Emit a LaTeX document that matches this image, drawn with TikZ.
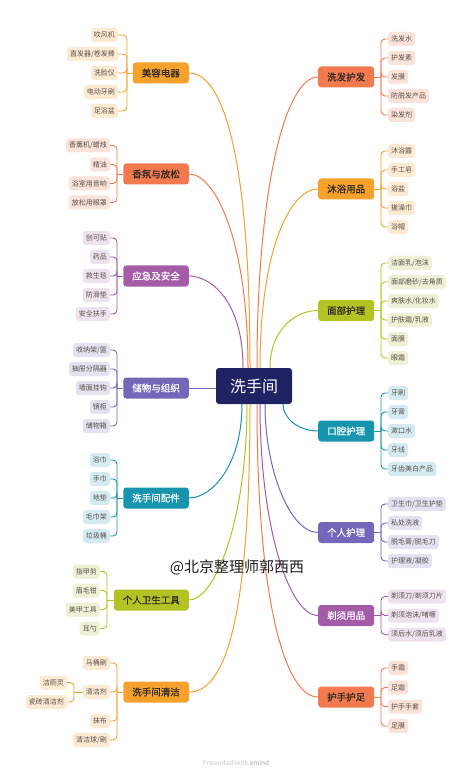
\documentclass[tikz,border=0pt]{standalone}
\usepackage{fontspec}
\setmainfont{Noto Sans CJK SC}
\newfontfamily\mainfnt[FakeBold=0.6]{Noto Sans CJK SC}
\definecolor{cOr}{HTML}{F5A12C}\definecolor{lOr}{HTML}{FCEAD2}
\definecolor{cCo}{HTML}{F37A4F}\definecolor{lCo}{HTML}{FCE3D9}
\definecolor{cPu}{HTML}{A45CA9}\definecolor{lPu}{HTML}{EEE2EF}
\definecolor{cSl}{HTML}{7168BA}\definecolor{lSl}{HTML}{E4E2F1}
\definecolor{cTe}{HTML}{1795AF}\definecolor{lTe}{HTML}{D4EBF2}
\definecolor{cGr}{HTML}{B4C324}\definecolor{lGr}{HTML}{EEF1D5}
\definecolor{cNavy}{HTML}{1F2363}
\definecolor{dk}{HTML}{2F2A25}
\definecolor{lt}{HTML}{5A514A}
\begin{document}
\begin{tikzpicture}[x=1pt,y=-1pt,
  mainnode/.style={rounded corners=3pt, minimum height=21pt, inner xsep=9pt, inner ysep=0pt, font=\mainfnt\fontsize{9.5}{10}\selectfont},
  mainL/.style={mainnode, anchor=east},
  mainR/.style={mainnode, anchor=west},
  leaf/.style={rounded corners=3pt, minimum height=14pt, inner xsep=3pt, inner ysep=0pt, font=\fontsize{7}{8}\selectfont, text=lt},
  leafL/.style={leaf, anchor=east},
  leafR/.style={leaf, anchor=west},
  link/.style={line width=1pt},
  brk/.style={line width=0.9pt, rounded corners=4pt}
]
\useasboundingbox[fill=white] (0,0) rectangle (474,775);

% center
\node[fill=cNavy, rounded corners=3pt, minimum width=76pt, minimum height=36pt, text=white, font=\fontsize{16}{18}\selectfont] (c) at (254,386) {洗手间};

%%%%%%%% LEFT %%%%%%%%
% 美容电器
\node[mainL, fill=cOr, text=dk] (mr) at (189,73) {美容电器};
\coordinate (mrb) at (127,73);
\draw[brk,cOr] (mr.west) -- (mrb);
\foreach \t/\y [count=\i] in {吹风机/35,{直发器/卷发棒}/54,洗脸仪/73,电动牙刷/92,足浴盆/111}{
  \node[leafL, fill=lOr] (mr\i) at (118,\y) {\t};
  \draw[brk,cOr] (mrb) |- (mr\i.east);
}
\draw[link,cOr] (mr.east) .. controls (224,73) and (250,160) .. ([xshift=-4pt]c.north);

% 香氛与放松
\node[mainL, fill=cCo, text=dk] (xf) at (189,174) {香氛与放松};
\coordinate (xfb) at (117,174);
\draw[brk,cCo] (xf.west) -- (xfb);
\foreach \t/\y [count=\i] in {{香薰机/蜡烛}/145.5,精油/164.5,浴室用音响/183.5,放松用眼罩/202.5}{
  \node[leafL, fill=lCo] (xf\i) at (110,\y) {\t};
  \draw[brk,cCo] (xfb) |- (xf\i.east);
}
\draw[link,cCo] (xf.east) .. controls (215,174) and (248,240) .. ([xshift=-6pt]c.north);

% 应急及安全
\node[mainL, fill=cPu, text=white] (yj) at (189,276) {应急及安全};
\coordinate (yjb) at (117,276);
\draw[brk,cPu] (yj.west) -- (yjb);
\foreach \t/\y [count=\i] in {创可贴/238,药品/257,救生毯/276,防滑垫/295,安全扶手/314}{
  \node[leafL, fill=lPu] (yj\i) at (110,\y) {\t};
  \draw[brk,cPu] (yjb) |- (yj\i.east);
}
\draw[link,cPu] (yj.east) .. controls (210,276) and (243,300) .. ([xshift=-11pt]c.north);

% 储物与组织
\node[mainL, fill=cSl, text=white] (cw) at (189,388) {储物与组织};
\coordinate (cwb) at (117,388);
\draw[brk,cSl] (cw.west) -- (cwb);
\foreach \t/\y [count=\i] in {{收纳架/篮}/350,抽屉分隔器/369,墙面挂钩/388,镜柜/407,储物箱/426}{
  \node[leafL, fill=lSl] (cw\i) at (110,\y) {\t};
  \draw[brk,cSl] (cwb) |- (cw\i.east);
}
\draw[link,cSl] (cw.east) -- (cw.east -| c.west);

% 洗手间配件
\node[mainL, fill=cTe, text=white] (pj) at (189,498) {洗手间配件};
\coordinate (pjb) at (117,498);
\draw[brk,cTe] (pj.west) -- (pjb);
\foreach \t/\y [count=\i] in {浴巾/460,手巾/479,地垫/498,毛巾架/517,垃圾桶/536}{
  \node[leafL, fill=lTe] (pj\i) at (110,\y) {\t};
  \draw[brk,cTe] (pjb) |- (pj\i.east);
}
\draw[link,cTe] (pj.east) .. controls (212,498) and (242,465) .. ([xshift=-12pt]c.south);

% 个人卫生工具
\node[mainL, fill=cGr, text=dk] (ws) at (189,600) {个人卫生工具};
\coordinate (wsb) at (107,600);
\draw[brk,cGr] (ws.west) -- (wsb);
\foreach \t/\y [count=\i] in {指甲剪/571.5,眉毛钳/590.5,美甲工具/609.5,耳勺/628.5}{
  \node[leafL, fill=lGr] (ws\i) at (100,\y) {\t};
  \draw[brk,cGr] (wsb) |- (ws\i.east);
}
\draw[link,cGr] (ws.east) .. controls (215,600) and (247,520) .. ([xshift=-7pt]c.south);

% 洗手间清洁
\node[mainL, fill=cOr, text=dk] (qj) at (189,692) {洗手间清洁};
\coordinate (qjb) at (117,692);
\draw[brk,cOr] (qj.west) -- (qjb);
\foreach \t/\y [count=\i] in {马桶刷/663,清洁剂/692,抹布/721,{清洁球/刷}/740}{
  \node[leafL, fill=lOr] (qj\i) at (110,\y) {\t};
  \draw[brk,cOr] (qjb) |- (qj\i.east);
}
\coordinate (qjsb) at (74,692);
\draw[brk,cOr] (qj2.west) -- (qjsb);
\foreach \t/\y [count=\i] in {洁厕灵/682.5,瓷砖清洁剂/702}{
  \node[leafL, fill=lOr] (qs\i) at (67,\y) {\t};
  \draw[brk,cOr] (qjsb) |- (qs\i.east);
}
\draw[link,cOr] (qj.east) .. controls (220,692) and (250,640) .. ([xshift=-4pt]c.south);

%%%%%%%% RIGHT %%%%%%%%
% 洗发护发
\node[mainR, fill=cCo, text=dk] (xh) at (318,77) {洗发护发};
\coordinate (xhb) at (381,77);
\draw[brk,cCo] (xh.east) -- (xhb);
\foreach \t/\y [count=\i] in {洗发水/39,护发素/58,发膜/77,防脱发产品/96,染发剂/115}{
  \node[leafR, fill=lCo] (xh\i) at (388,\y) {\t};
  \draw[brk,cCo] (xhb) |- (xh\i.west);
}
\draw[link,cCo] (xh.west) .. controls (285,77) and (257,190) .. ([xshift=3pt]c.north);

% 沐浴用品
\node[mainR, fill=cOr, text=dk] (my) at (318,189) {沐浴用品};
\coordinate (myb) at (381,189);
\draw[brk,cOr] (my.east) -- (myb);
\foreach \t/\y [count=\i] in {沐浴露/151,手工皂/170,浴盐/189,搓澡巾/208,浴帽/227}{
  \node[leafR, fill=lOr] (my\i) at (388,\y) {\t};
  \draw[brk,cOr] (myb) |- (my\i.west);
}
\draw[link,cOr] (my.west) .. controls (290,189) and (260,250) .. ([xshift=6pt]c.north);

% 面部护理
\node[mainR, fill=cGr, text=dk] (mb) at (318,310.5) {面部护理};
\coordinate (mbb) at (381,310.5);
\draw[brk,cGr] (mb.east) -- (mbb);
\foreach \t/\y [count=\i] in {{洁面乳/泡沫}/263,{面部磨砂/去角质}/282,{爽肤水/化妆水}/301,{护肤霜/乳液}/320,面膜/339,眼霜/358}{
  \node[leafR, fill=lGr] (mb\i) at (388,\y) {\t};
  \draw[brk,cGr] (mbb) |- (mb\i.west);
}
\draw[link,cGr] (mb.west) .. controls (295,310.5) and (270,330) .. ([xshift=16pt]c.north);

% 口腔护理
\node[mainR, fill=cTe, text=white] (kq) at (318,431) {口腔护理};
\coordinate (kqb) at (381,431);
\draw[brk,cTe] (kq.east) -- (kqb);
\foreach \t/\y [count=\i] in {牙刷/393,牙膏/412,漱口水/431,牙线/450,牙齿美白产品/469}{
  \node[leafR, fill=lTe] (kq\i) at (388,\y) {\t};
  \draw[brk,cTe] (kqb) |- (kq\i.west);
}
\draw[link,cTe] (kq.west) .. controls (298,431) and (283,418) .. ([xshift=29pt]c.south);

% 个人护理
\node[mainR, fill=cSl, text=white] (gr) at (318,532.5) {个人护理};
\coordinate (grb) at (381,532.5);
\draw[brk,cSl] (gr.east) -- (grb);
\foreach \t/\y [count=\i] in {{卫生巾/卫生护垫}/504,私处洗液/523,{脱毛膏/脱毛刀}/542,{护理液/凝胶}/561}{
  \node[leafR, fill=lSl] (gr\i) at (388,\y) {\t};
  \draw[brk,cSl] (grb) |- (gr\i.west);
}
\draw[link,cSl] (gr.west) .. controls (290,532.5) and (265,470) .. ([xshift=11pt]c.south);

% 剃须用品
\node[mainR, fill=cPu, text=white] (tx) at (318,615.5) {剃须用品};
\coordinate (txb) at (381,615.5);
\draw[brk,cPu] (tx.east) -- (txb);
\foreach \t/\y [count=\i] in {{剃须刀/剃须刀片}/596.5,{剃须泡沫/啫喱}/615.5,{须后水/须后乳液}/634.5}{
  \node[leafR, fill=lPu] (tx\i) at (388,\y) {\t};
  \draw[brk,cPu] (txb) |- (tx\i.west);
}
\draw[link,cPu] (tx.west) .. controls (290,615.5) and (260,530) .. ([xshift=6pt]c.south);

% 护手护足
\node[mainR, fill=cCo, text=dk] (hs) at (318,697) {护手护足};
\coordinate (hsb) at (381,697);
\draw[brk,cCo] (hs.east) -- (hsb);
\foreach \t/\y [count=\i] in {手霜/668,足霜/687.5,护手手套/706.5,足膜/726}{
  \node[leafR, fill=lCo] (hs\i) at (388,\y) {\t};
  \draw[brk,cCo] (hsb) |- (hs\i.west);
}
\draw[link,cCo] (hs.west) .. controls (285,697) and (257,600) .. ([xshift=3pt]c.south);

% watermark and footer
\node[text=black!88, font=\fontsize{15}{16}\selectfont] (wm) at (237,567) {@北京整理师郭西西};
\node[font=\fontsize{6.5}{7}\selectfont, text=black!22] (ft) at (236,763) {Presented with {\color{black!35}xmind}};
\end{tikzpicture}
\end{document}
